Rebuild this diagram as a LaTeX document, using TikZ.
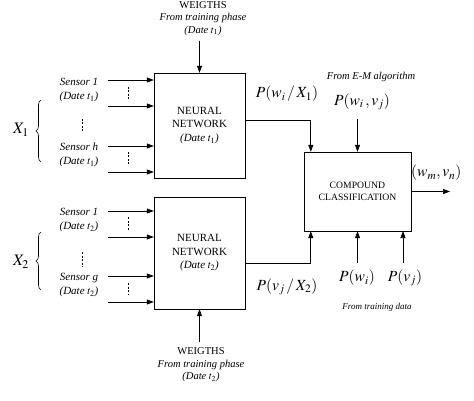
\documentclass[tikz,border=0pt]{standalone}
\usepackage{mathptmx}
\usepackage{fontspec}
\setmainfont{Liberation Serif}
\usetikzlibrary{arrows.meta,positioning,decorations.pathreplacing,calc}

\begin{document}
\begin{tikzpicture}[x=1pt, y=-1pt,
    nnbox/.style={rectangle, draw, minimum width=91pt, align=center, font=\fontsize{11}{13.5}\selectfont},
    ccbox/.style={rectangle, draw, minimum width=107pt, minimum height=79pt, align=center, font=\fontsize{9.7}{12}\selectfont},
    arr/.style={-{Triangle[length=7pt,width=5pt]}, line width=0.7pt},
    sensor/.style={align=center, font=\fontsize{11}{14.5}\selectfont\itshape},
    wlab/.style={align=center, font=\fontsize{10.5}{12.5}\selectfont},
    note/.style={font=\fontsize{9}{11}\selectfont\itshape},
    prob/.style={font=\fontsize{15.5}{17}\selectfont},
    xlab/.style={font=\fontsize{16}{18}\selectfont},
    dots/.style={dashed, dash pattern=on 2pt off 1.5pt, line width=0.5pt},
    brc/.style={decorate, decoration={brace, amplitude=5pt}, line width=0.6pt}
]
\useasboundingbox (0,0) rectangle (474,401);

% Neural networks
\node[nnbox, minimum height=105pt] (nn1) at (199.5,125.5) {NEURAL\\NETWORK\\{\itshape (Date $t_1$)}};
\node[nnbox, minimum height=112pt] (nn2) at (199.5,253) {NEURAL\\NETWORK\\{\itshape (Date $t_2$)}};

% Compound classification
\node[ccbox] (cc) at (357.5,191.5) {COMPOUND\\CLASSIFICATION};

% Weights
\node[wlab] (w1) at (203,18.5) {WEIGTHS\\{\itshape From training phase}\\{\itshape (Date $t_1$)}};
\node[wlab] (w2) at (201,365) {WEIGTHS\\{\itshape From training phase}\\{\itshape (Date $t_2$)}};

% Sensors
\node[sensor] (s1a) at (79,90) {Sensor 1\\(Date $t_1$)};
\node[sensor] (s1h) at (79,155) {Sensor h\\(Date $t_1$)};
\node[sensor] (s2a) at (79,220) {Sensor 1\\(Date $t_2$)};
\node[sensor] (s2g) at (79,285) {Sensor g\\(Date $t_2$)};

\node[xlab] (x1) at (21,130) {$X_1$};
\node[xlab] (x2) at (21,262) {$X_2$};

% Probabilities
\node[prob] (pw1) at (287,94) {$P(w_i\,/\,X_1)$};
\node[prob] (pv2) at (287,287) {$P(v_j\,/\,X_2)$};
\node[prob] (pwv) at (362,102) {$P(w_i\,,v_j)$};
\node[prob] (pwi) at (357,278) {$P(w_i)$};
\node[prob] (pvj) at (405,278) {$P(v_j)$};
\node[prob, anchor=west, inner sep=0pt] (out) at (411,173) {$(w_m,v_n)$};
\node[note, font=\fontsize{10.5}{12}\selectfont\itshape] (em) at (371,77) {From E-M algorithm};
\node[note] (td) at (377,307) {From training data};

% Sensor inputs
\foreach \y in {80,106,146,172} {
  \coordinate (in\y) at (108,\y);
  \draw[arr] (in\y) -- (in\y -| nn1.west);
}
\foreach \y in {211,237,276,302} {
  \coordinate (in\y) at (108,\y);
  \draw[arr] (in\y) -- (in\y -| nn2.west);
}

% Dashed marks
\draw[dots] (128,87) -- (128,99);
\draw[dots] (128,152) -- (128,165);
\draw[dots] (128,217) -- (128,230);
\draw[dots] (128,283) -- (128,295);
\draw[dots] (82,119) -- (82,132);
\draw[dots] (82,252) -- (82,267);

% Braces
\draw[brc] (41,162) -- (41,100);
\draw[brc] (41,290) -- (41,232);

% Arrows
\draw[arr] (nn1.north |- 0,41) -- (nn1.north);
\draw[arr] (nn2.south |- 0,342) -- (nn2.south);
\draw[arr] ([yshift=5.5pt]nn1.east) -| ([xshift=7pt]cc.north west);
\draw[arr] ([yshift=-10pt]nn2.east) -| ([xshift=7pt]cc.south west);
\draw[arr] (cc.north |- 0,119) -- (cc.north);
\draw[arr] (cc.south |- 0,263) -- (cc.south);
\draw[arr] (403,263) -- (403,231);
\draw[arr] (cc.east) -- (450,191.5);

\end{tikzpicture}
\end{document}
